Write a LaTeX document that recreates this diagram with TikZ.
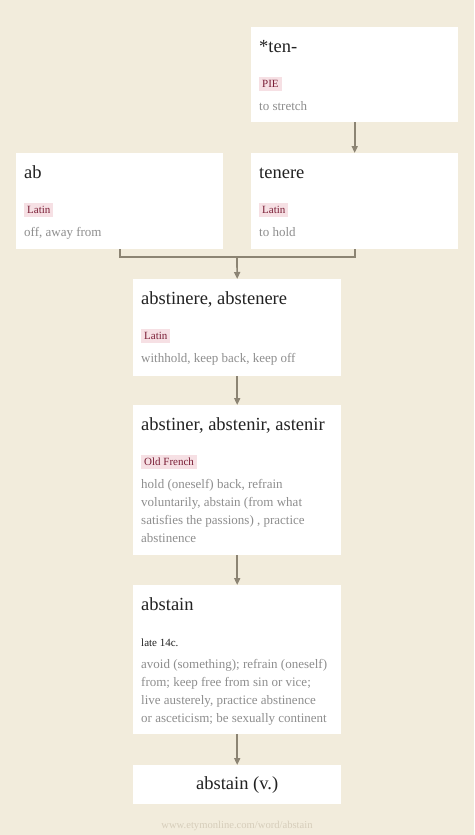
\documentclass[tikz,border=0pt]{standalone}
\usepackage{fontspec}
\setmainfont{Liberation Serif}
\usepackage{xcolor}
\usetikzlibrary{arrows.meta}

\definecolor{paper}{HTML}{F2ECDC}
\definecolor{linkgray}{HTML}{8C8473}
\definecolor{tagpink}{HTML}{F6E0E4}
\definecolor{tagred}{HTML}{7A1E36}
\definecolor{glossgray}{HTML}{8E8E8E}
\definecolor{inkblack}{HTML}{222222}
\definecolor{footgray}{HTML}{D6CDBA}

\tikzset{
  wordbox/.style = {fill=white, anchor=north west, inner sep=0pt, minimum width=207pt},
  headword/.style = {anchor=base west, inner sep=0pt, text=inkblack, font=\fontsize{18.5}{22}\selectfont},
  langtag/.style = {anchor=west, fill=tagpink, text=tagred, inner xsep=3pt, inner ysep=2pt,
    text height=8pt, text depth=2pt, font=\fontsize{11}{13}\selectfont},
  gloss/.style = {anchor=base west, inner sep=0pt, align=left, text=glossgray, font=\fontsize{13}{18}\selectfont},
  link/.style = {draw=linkgray, line width=1.7pt},
  arrowlink/.style = {link, -{Triangle[width=6pt, length=7pt]}},
}

\begin{document}
\begin{tikzpicture}[x=1pt, y=-1pt]
			\fill [paper] (0,0) rectangle (474,835);
			\useasboundingbox (0,0) rectangle (474,835);

			\begin{scope}
				\node [wordbox, minimum height=95pt] (ten) at (251,27) {};
				\node [wordbox, minimum height=96pt] (ab) at (16,153) {};
				\node [wordbox, minimum height=96pt] (tenere) at (251,153) {};
				\node [wordbox, minimum width=208pt, minimum height=97pt] (abstinere) at (133,279) {};
				\node [wordbox, minimum width=208pt, minimum height=150pt] (abstiner) at (133,405) {};
				\node [wordbox, minimum width=208pt, minimum height=149pt] (abstain) at (133,585) {};
				\node [wordbox, minimum width=208pt, minimum height=39pt] (abstainv) at (133,765) {};
			\end{scope}

			% *ten-
			\node [headword] (ten-head) at (259,52) {*ten-};
			\node [langtag] (ten-tag) at (259,84) {PIE};
			\node [gloss] (ten-gloss) at (259,110) {to stretch};

			% ab
			\node [headword] (ab-head) at (24,178) {ab};
			\node [langtag] (ab-tag) at (24,210) {Latin};
			\node [gloss] (ab-gloss) at (24,236) {off, away from};

			% tenere
			\node [headword] (tenere-head) at (259,178) {tenere};
			\node [langtag] (tenere-tag) at (259,210) {Latin};
			\node [gloss] (tenere-gloss) at (259,236) {to hold};

			% abstinere
			\node [headword] (abstinere-head) at (141,304) {abstinere, abstenere};
			\node [langtag] (abstinere-tag) at (141,336) {Latin};
			\node [gloss] (abstinere-gloss) at (141,362) {withhold, keep back, keep off};

			% abstiner (base sits on the last line)
			\node [headword] (abstiner-head) at (141,430) {abstiner, abstenir, astenir};
			\node [langtag] (abstiner-tag) at (141,462) {Old French};
			\node [gloss] (abstiner-gloss) at (141,542) {hold (oneself) back, refrain\\voluntarily, abstain (from what\\satisfies the passions) , practice\\abstinence};

			% abstain
			\node [headword] (abstain-head) at (141,610) {abstain};
			\node [anchor=base west, inner sep=0pt, text=inkblack, font=\fontsize{11}{13}\selectfont] (abstain-date) at (141,646) {late 14c.};
			\node [gloss] (abstain-gloss) at (141,722) {avoid (something); refrain (oneself)\\from; keep free from sin or vice;\\live austerely, practice abstinence\\or asceticism; be sexually continent};

			\node [inner sep=0pt, text=inkblack, font=\fontsize{18.5}{22}\selectfont] (abstainv-head) at (abstainv.center) {abstain (v.)};

			% links
			\coordinate (join) at (237,257);
			\draw [arrowlink] (ten.south) -- (tenere.north);
			\draw [link] (ab.south) |- (join) -| (tenere.south);
			\draw [arrowlink] (join) -- (abstinere.north);
			\draw [arrowlink] (abstinere.south) -- (abstiner.north);
			\draw [arrowlink] (abstiner.south) -- (abstain.north);
			\draw [arrowlink] (abstain.south) -- (abstainv.north);

			\node [text=footgray, font=\fontsize{10.6}{12}\selectfont] (footer) at (237,826) {www.etymonline.com/word/abstain};
		\end{tikzpicture}
\end{document}
